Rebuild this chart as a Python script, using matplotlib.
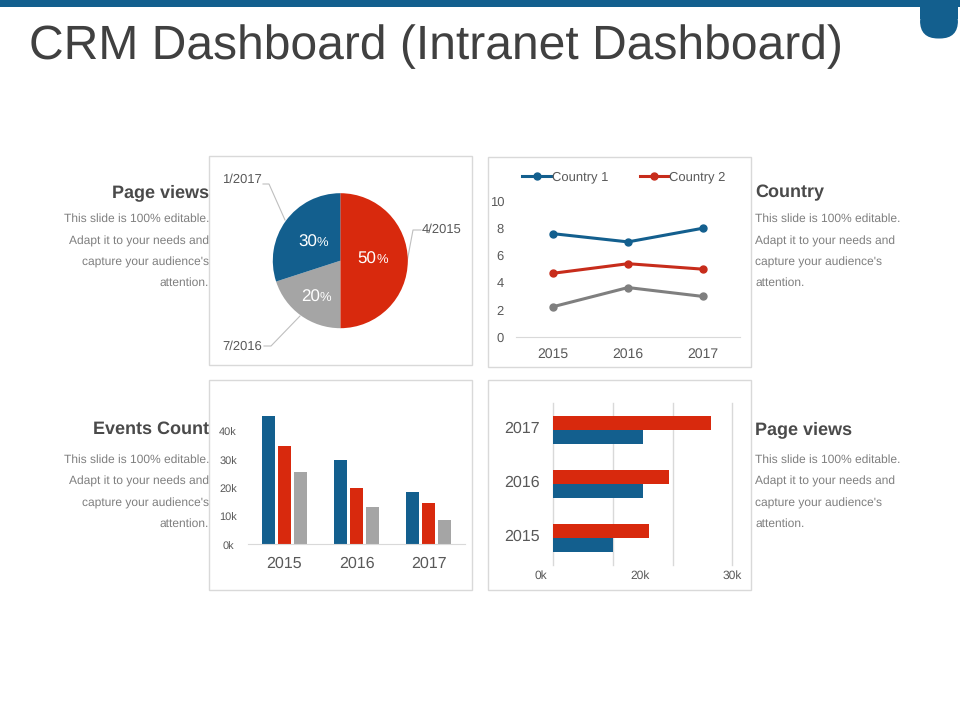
"""CRM dashboard slide: four small charts with captions."""
import matplotlib
matplotlib.use("Agg")
import matplotlib.pyplot as plt
from matplotlib.patches import FancyBboxPatch, Rectangle
from matplotlib.transforms import ScaledTranslation
import numpy as np

plt.rcParams["font.family"] = ["Liberation Sans", "DejaVu Sans"]
plt.rcParams["text.hinting"] = "no_hinting"
plt.rcParams["text.hinting_factor"] = 1

BLUE = "#135F8E"
RED = "#D8290D"
GRAY = "#A5A5A5"
LINE_RED = "#C72C1B"
LINE_GRAY = "#7F7F7F"
TEXT = "#595959"
BOX = "#D9D9D9"

W, H = 960, 720

# ── Data ─────────────────────────────────────────────────────────────────
pie_labels = ["4/2015", "7/2016", "1/2017"]
pie_values = [50, 20, 30]

years = ["2015", "2016", "2017"]
country_1 = [7.6, 7.0, 8.0]
country_2 = [4.7, 5.4, 5.0]
country_3 = [2.25, 3.65, 3.0]

events_blue = [45.2, 29.7, 18.4]
events_red = [34.4, 19.8, 14.6]
events_gray = [25.4, 13.1, 8.6]
events_ticks = [0, 10, 20, 30, 40]

views_red = [16.0, 19.4, 26.4]
views_blue = [10.0, 15.0, 15.0]
views_grid = [0, 10, 20, 30]

caption = ["This slide is 100% editable.", "Adapt it to your needs and",
           "capture your audience's", "attention."]


def px_axes(fig, x0, y0, x1, y1):
    """Axes placed by pixel corners, y counted from the top."""
    ax = fig.add_axes([x0 / W, 1 - y1 / H, (x1 - x0) / W, (y1 - y0) / H])
    ax.patch.set_alpha(0)
    return ax


def clean(ax, keep="bottom"):
    for name, spine in ax.spines.items():
        spine.set_visible(name == keep)
        spine.set_color(BOX)
    ax.tick_params(length=0)


def nudge_down(labels, px):
    """Shift tick labels down by px pixels."""
    for label in labels:
        label.set_transform(label.get_transform()
                            + ScaledTranslation(0, -px / 100, fig.dpi_scale_trans))


fig = plt.figure(figsize=(9.6, 7.2), dpi=100)

# Full-slide layer in pixel coordinates for the chrome and the captions.
bg = fig.add_axes([0, 0, 1, 1])
bg.set_xlim(0, W)
bg.set_ylim(H, 0)
bg.axis("off")

bg.add_patch(Rectangle((0, 0), W, 6.5, color=BLUE, lw=0))
bg.add_patch(Rectangle((920, 0), 38, 19, color=BLUE, lw=0))
bg.add_patch(FancyBboxPatch((920, 5), 38, 33.5, boxstyle="round,pad=0,rounding_size=18",
                            color=BLUE, lw=0))
bg.text(29, 47, "CRM Dashboard (Intranet Dashboard)", fontsize=34.5, color="#404040",
        ha="left", va="center")

for x0, y0, x1, y1 in [(209, 156, 472, 365), (488, 157, 751, 367),
                       (209, 380, 472, 590), (488, 380, 751, 590)]:
    bg.add_patch(Rectangle((x0, y0), x1 - x0, y1 - y0, fc="white", ec=BOX, lw=1))


def block(x, ha, title, y_title, y_lines):
    bg.text(x, y_title + 1.5, title, fontsize=12.7, fontweight="bold", color="#4A4A4A",
            ha=ha, va="center")
    for line, y in zip(caption, y_lines):
        bg.text(x, y + 1, line, fontsize=8.6, color="#7F7F7F", ha=ha, va="center")


top_lines = [218, 240, 261, 282]
low_lines = [459, 480, 502, 523]
block(209, "right", "Page views", 191, top_lines)
block(209, "right", "Events Count", 428, low_lines)
block(755, "left", "Country", 191, top_lines)
block(755, "left", "Page views", 428, low_lines)

# ── Pie ──────────────────────────────────────────────────────────────────
ax = px_axes(fig, 272.8, 193.2, 407.8, 328.2)
ax.pie(pie_values, colors=[RED, GRAY, BLUE], startangle=90, counterclock=False, radius=1,
       wedgeprops={"lw": 0})
ax.set_xlim(-1, 1)
ax.set_ylim(-1, 1)

# Number and percent sign are set in two sizes on the slide.
for value, (x, y) in zip(pie_values, [(371.5, 259), (315, 297), (312, 242)]):
    ax.text(x + 5, y, str(value), fontsize=12, color="white", ha="right", va="center",
            transform=bg.transData)
    ax.text(x + 5, y + 0.5, "%", fontsize=9, color="white", ha="left", va="center",
            transform=bg.transData)

# Leader lines and slice names.
for name, tx, ty, ha, path in zip(
    pie_labels,
    [422, 262, 262],
    [229.5, 346.5, 179.5],
    ["left", "right", "right"],
    [[(421, 230), (413, 230), (407, 262)],
     [(264, 346), (271, 346), (300, 316)],
     [(263, 184), (269, 184), (285, 220)]],
):
    bg.text(tx, ty, name, fontsize=9.5, color=TEXT, ha=ha, va="center")
    xs, ys = zip(*path)
    bg.plot(xs, ys, color="#BFBFBF", lw=0.8)

# ── Lines ────────────────────────────────────────────────────────────────
ax = px_axes(fig, 516, 201, 740, 337.3)
x = np.arange(len(years))
ax.plot(x, country_1, color=BLUE, lw=2.2, marker="o", ms=5, label="Country 1")
ax.plot(x, country_2, color=LINE_RED, lw=2.2, marker="o", ms=5, label="Country 2")
ax.plot(x, country_3, color=LINE_GRAY, lw=2.2, marker="o", ms=5)
ax.set_xlim(-0.5, 2.5)
ax.set_ylim(0, 10)
ax.set_xticks(x, years)
ax.set_yticks([0, 2, 4, 6, 8, 10])
clean(ax)
ax.tick_params(axis="x", labelsize=10.4, labelcolor=TEXT, pad=7.5)
ax.tick_params(axis="y", labelsize=9.7, labelcolor=TEXT, pad=8.6)
ax.legend(loc="center", bbox_to_anchor=(624, 177), bbox_transform=bg.transData, ncol=2,
          frameon=False, fontsize=9.3, labelcolor=TEXT, handlelength=2.2, handletextpad=0.1,
          columnspacing=2.4, borderpad=0)

# ── Grouped columns ──────────────────────────────────────────────────────
ax = px_axes(fig, 248, 402, 465, 544.3)
x = np.arange(len(years))
step = 16 / 72.5
width = 13 / 72.5
ax.bar(x - step, events_blue, width, color=BLUE)
ax.bar(x, events_red, width, color=RED)
ax.bar(x + step, events_gray, width, color=GRAY)
ax.set_xlim(-0.5, 2.5)
ax.set_ylim(0, 50)
ax.set_xticks(x, years)
ax.set_yticks(events_ticks, [f"{v}k" for v in events_ticks])
clean(ax)
ax.tick_params(axis="x", labelsize=11.4, labelcolor=TEXT, pad=8.5)
ax.tick_params(axis="y", labelsize=7.9, labelcolor=TEXT, pad=14.4)
for label in ax.get_yticklabels():
    label.set_ha("center")
nudge_down(ax.get_yticklabels(), 1.5)

# ── Horizontal bars ──────────────────────────────────────────────────────
ax = px_axes(fig, 553.3, 403, 732.3, 565)
y = np.arange(len(years))
height = 14 / 54
ax.barh(y + height / 2, views_red, height, color=RED, zorder=3)
ax.barh(y - height / 2, views_blue, height, color=BLUE, zorder=3)
ax.set_xlim(0, 30)
ax.set_ylim(-0.5, 2.5)
ax.set_yticks(y, years)
ax.set_xticks(views_grid, [])
ax.grid(axis="x", color=BOX, lw=1, zorder=0, clip_on=False)
clean(ax, keep=None)
ax.tick_params(axis="y", labelsize=11.4, labelcolor=TEXT, pad=10)
nudge_down(ax.get_yticklabels(), -3)
# The slide's value labels do not sit under their gridlines.
for text, px in [("0k", 540.7), ("20k", 639.7), ("30k", 732)]:
    bg.text(px, 576, text, fontsize=8.5, color=TEXT, ha="center", va="center")

fig.savefig("out.png", dpi=100, facecolor="white")
